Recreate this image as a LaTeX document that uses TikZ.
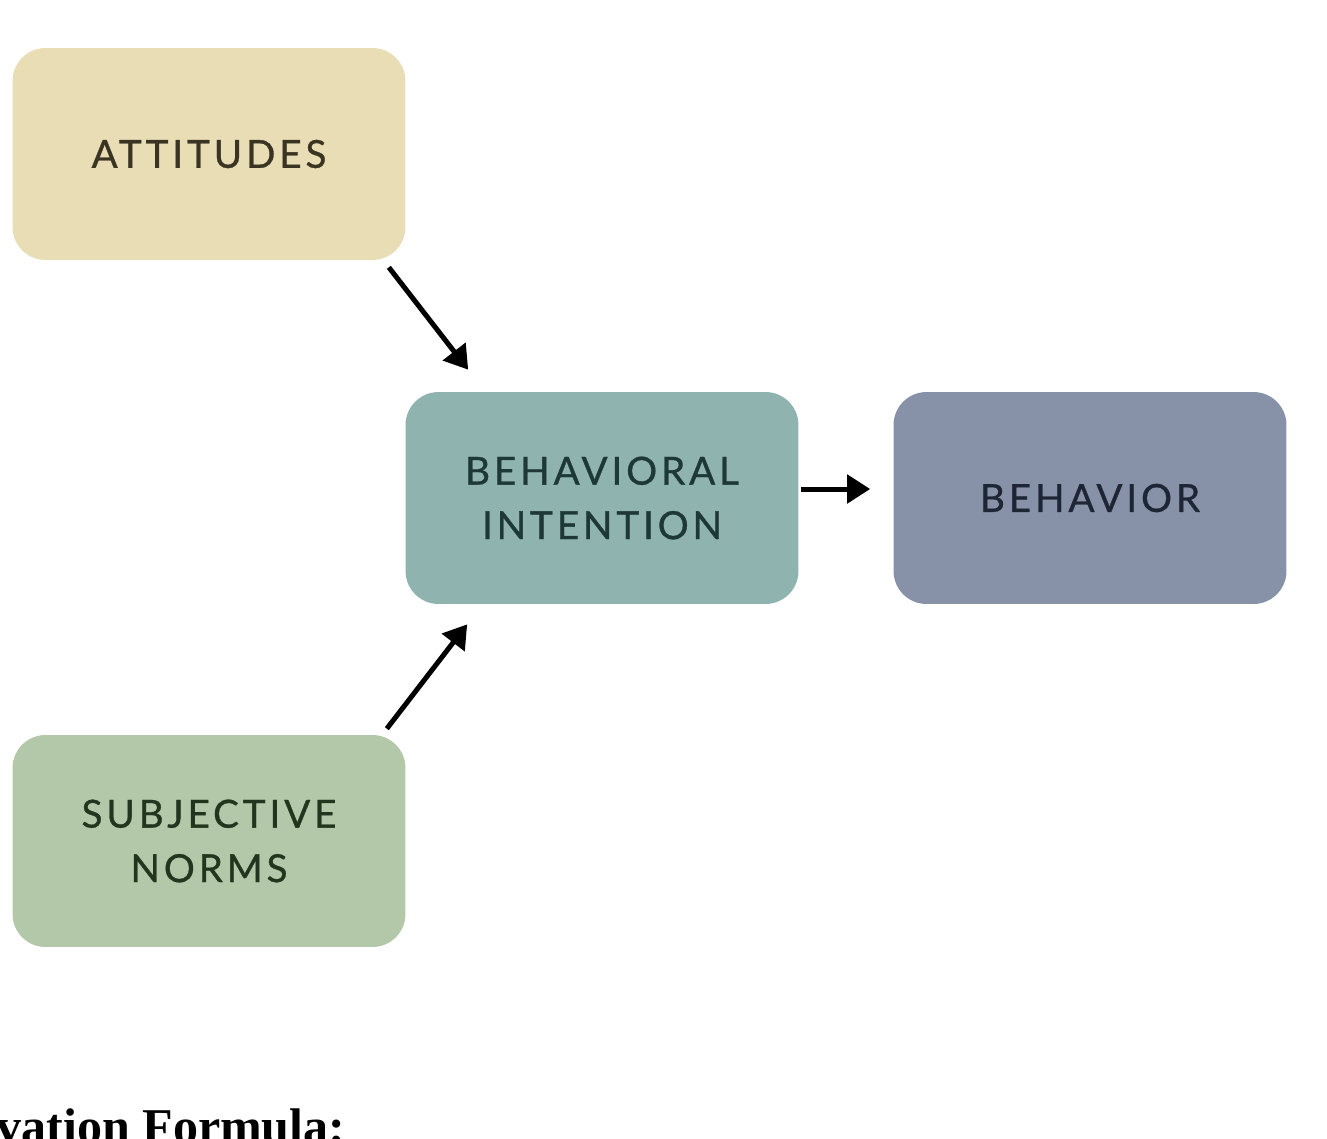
\documentclass[tikz,border=0pt]{standalone}
\usepackage{fontspec}
\newfontfamily\boxfont[LetterSpace=10,FakeBold=0.8]{Lato}
\newfontfamily\capfont{Liberation Serif}
\usetikzlibrary{arrows.meta}
\definecolor{attfill}{HTML}{E8DDB4}
\definecolor{bifill}{HTML}{8FB4B0}
\definecolor{behfill}{HTML}{8792A8}
\definecolor{snfill}{HTML}{B2C8A8}
\definecolor{atttext}{HTML}{3A3422}
\definecolor{bitext}{HTML}{1E3838}
\definecolor{behtext}{HTML}{1E2636}
\definecolor{sntext}{HTML}{22361F}
\begin{document}
\begin{tikzpicture}[x=0.02cm, y=-0.02cm,
	main/.style = {rectangle, rounded corners=0.66cm, minimum width=7.86cm, minimum height=4.24cm, align=center, inner sep=0pt, font=\boxfont\fontsize{22}{31}\selectfont},
	arr/.style = {line width=0.1cm, -{Triangle[length=0.46cm, width=0.56cm]}}]
	\useasboundingbox (0,0) rectangle (1327,1138);
	
	\node[main, fill=attfill, text=atttext] (att) at (209,154) {ATTITUDES};
	\node[main, fill=bifill, text=bitext] (bi) at (602,498) {BEHAVIORAL\\INTENTION};
	\node[main, fill=behfill, text=behtext] (beh) at (1090,498) {BEHAVIOR};
	\node[main, fill=snfill, text=sntext] (sn) at (209,841) {SUBJECTIVE\\NORMS};
	
	\node[anchor=base west, inner sep=0pt, font=\capfont\bfseries\fontsize{28.5}{34}\selectfont] (cap) at (-4,1143) {vation Formula:};
	
	\draw[arr] ([xshift=-0.34cm,yshift=-0.14cm]att.south east) -- ([xshift=1.26cm,yshift=0.44cm]bi.north west);
	\draw[arr] ([xshift=-0.38cm,yshift=0.12cm]sn.north east) -- ([xshift=1.24cm,yshift=-0.40cm]bi.south west);
	\draw[arr] ([xshift=0.04cm,yshift=0.18cm]bi.east) -- ([xshift=-0.46cm,yshift=0.18cm]beh.west);
	
\end{tikzpicture}
\end{document}
